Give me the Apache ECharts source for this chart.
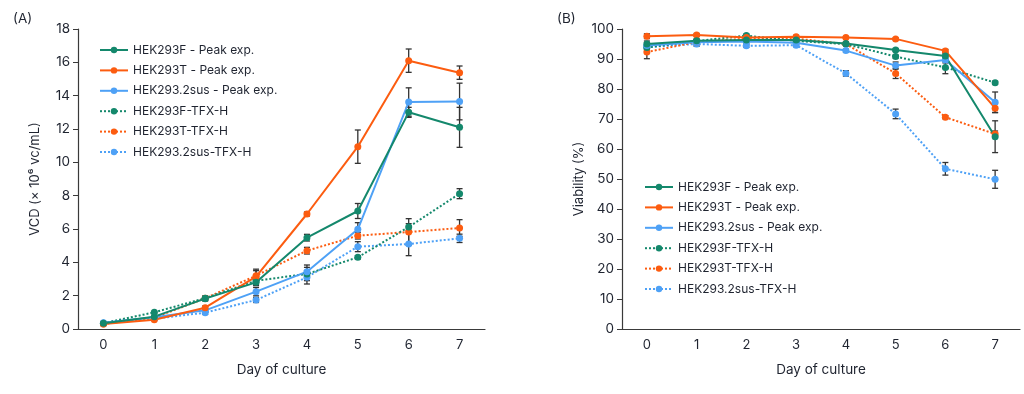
<!DOCTYPE html>
<html><head><meta charset="utf-8">
<script src="https://cdn.jsdelivr.net/npm/echarts@6/dist/echarts.min.js"></script>
<style>html,body{margin:0;padding:0;background:#fff}#c{width:1024px;height:394px}</style>
</head><body><div id="c"></div>
<script>
const days = ['0','1','2','3','4','5','6','7'];
const names = ['HEK293F - Peak exp.','HEK293T - Peak exp.','HEK293.2sus - Peak exp.','HEK293F-TFX-H','HEK293T-TFX-H','HEK293.2sus-TFX-H'];
const colors = ['#14886c','#fc5c10','#4ea1f6','#14886c','#fc5c10','#4ea1f6'];
const dashed = [false,false,false,true,true,true];
const vcdTicks = [0,2,4,6,8,10,12,14,16,18];
const viaTicks = [0,10,20,30,40,50,60,70,80,90,100];

// VCD (x10^6 vc/mL)
const vcdFPeak    = [0.35,0.74,1.82,2.80,5.48,7.08,13.0,12.1];
const vcdTPeak    = [0.30,0.56,1.28,3.14,6.90,10.94,16.1,15.38];
const vcdSusPeak  = [0.38,0.70,1.12,2.24,3.44,5.98,13.62,13.65];
const vcdFTfx     = [0.35,1.00,1.85,2.90,3.30,4.30,6.12,8.12];
const vcdTTfx     = [0.30,0.68,1.84,3.20,4.70,5.60,5.82,6.06];
const vcdSusTfx   = [0.35,0.62,0.98,1.74,3.10,4.94,5.10,5.44];
const vcdFPeakErr   = [0.05,0.08,0.12,0.2,0.2,0.45,0.3,1.2];
const vcdTPeakErr   = [0.05,0.05,0.1,0.45,0.12,1.0,0.7,0.4];
const vcdSusPeakErr = [0.05,0.05,0.1,0.25,0.4,0.4,0.85,1.1];
const vcdFTfxErr    = [0.05,0.05,0.1,0.2,0.4,0.1,0.2,0.3];
const vcdTTfxErr    = [0.05,0.05,0.15,0.3,0.2,0.2,0.8,0.5];
const vcdSusTfxErr  = [0.05,0.05,0.1,0.15,0.4,0.3,0.7,0.25];

// Viability (%)
const viaFPeak    = [95.0,96.1,96.3,96.3,95.2,93.0,91.0,64.1];
const viaTPeak    = [97.6,98.0,97.2,97.4,97.2,96.7,92.7,73.6];
const viaSusPeak  = [94.5,95.6,95.8,95.4,92.8,87.8,89.7,75.6];
const viaFTfx     = [93.8,96.0,97.8,96.0,95.0,90.8,87.2,82.1];
const viaTTfx     = [92.3,95.7,96.8,96.8,95.0,85.2,70.6,65.0];
const viaSusTfx   = [94.0,95.0,94.4,94.6,85.2,71.7,53.4,49.9];
const viaFPeakErr   = [1.0,0.5,0.5,0.5,0.5,0.5,0.8,5.3];
const viaTPeakErr   = [0.8,0.5,0.5,0.5,0.3,0.3,0.5,1.5];
const viaSusPeakErr = [1.0,1.0,0.5,0.5,0.5,1.2,1.0,3.4];
const viaFTfxErr    = [0.5,0.5,0.5,0.5,0.5,0.5,2.1,0.5];
const viaTTfxErr    = [2.2,0.5,0.5,0.5,0.5,1.7,0.5,1.0];
const viaSusTfxErr  = [0.8,0.8,0.5,0.5,0.9,1.6,2.1,3.0];

const vcdSets = [vcdFPeak,vcdTPeak,vcdSusPeak,vcdFTfx,vcdTTfx,vcdSusTfx];
const vcdErrs = [vcdFPeakErr,vcdTPeakErr,vcdSusPeakErr,vcdFTfxErr,vcdTTfxErr,vcdSusTfxErr];
const viaSets = [viaFPeak,viaTPeak,viaSusPeak,viaFTfx,viaTTfx,viaSusTfx];
const viaErrs = [viaFPeakErr,viaTPeakErr,viaSusPeakErr,viaFTfxErr,viaTTfxErr,viaSusTfxErr];

const FONT = 'Inter';
const TXT = '#1f2430';
const AX = '#3a3a3a';

function errSeries(idx, vals, errs) {
  return {
    type: 'custom', xAxisIndex: idx, yAxisIndex: idx, z: 3, silent: true,
    data: vals.map((v,i)=>[i, v, errs[i]]),
    renderItem: function(params, api){
      const x = api.value(0), v = api.value(1), e = api.value(2);
      const hi = api.coord([x, v+e]), lo = api.coord([x, v-e]);
      const w = 3;
      const st = {stroke:'#333', lineWidth:1.3};
      return {type:'group', children:[
        {type:'line', shape:{x1:hi[0],y1:hi[1],x2:lo[0],y2:lo[1]}, style:st},
        {type:'line', shape:{x1:hi[0]-w,y1:hi[1],x2:hi[0]+w,y2:hi[1]}, style:st},
        {type:'line', shape:{x1:lo[0]-w,y1:lo[1],x2:lo[0]+w,y2:lo[1]}, style:st}
      ]};
    }
  };
}
function lineSeries(idx, k, vals) {
  return {
    type:'line', name:names[k], xAxisIndex:idx, yAxisIndex:idx, z: 4,
    data: vals, symbol:'circle', symbolSize:7, showSymbol:true,
    itemStyle:{color:colors[k]},
    lineStyle:{color:colors[k], width:2, type: dashed[k] ? 'dotted' : 'solid'},
    animation:false
  };
}
const series = [];
for (let k=0;k<6;k++){ series.push(errSeries(0, vcdSets[k], vcdErrs[k])); }
for (let k=0;k<6;k++){ series.push(errSeries(1, viaSets[k], viaErrs[k])); }
for (let k=5;k>=0;k--){ series.push(lineSeries(0, k, vcdSets[k])); }
for (let k=5;k>=0;k--){ series.push(lineSeries(1, k, viaSets[k])); }

function xAx(gi){
  return {type:'category', gridIndex:gi, data:days, boundaryGap:true,
    name:'Day of culture', nameLocation:'middle', nameGap:34,
    nameTextStyle:{fontFamily:FONT, fontSize:13.5, color:TXT},
    axisLine:{lineStyle:{color:AX, width:1.2}},
    axisTick:{alignWithLabel:true, length:5, lineStyle:{color:AX}},
    axisLabel:{fontFamily:FONT, fontSize:13, color:TXT, margin:10}};
}
function yAx(gi, name, max, interval){
  return {type:'value', gridIndex:gi, min:0, max:max, interval:interval,
    name:name, nameLocation:'middle', nameGap:36,
    nameTextStyle:{fontFamily:FONT, fontSize:13, color:TXT},
    axisLine:{show:true, lineStyle:{color:AX, width:1.2}},
    axisTick:{show:true, length:5, lineStyle:{color:AX}},
    splitLine:{show:false},
    axisLabel:{fontFamily:FONT, fontSize:13.5, color:TXT, margin:8}};
}
function legend(left, top){
  return {left:left, top:top, orient:'vertical', data:names, itemWidth:28, itemHeight:8,
    itemGap:6.4, selectedMode:false,
    textStyle:{fontFamily:FONT, fontSize:12, color:TXT, lineHeight:14, padding:[0,0,0,0]}};
}
const chart = echarts.init(document.getElementById('c'), null, {renderer:'canvas'});
chart.setOption({
  animation:false,
  backgroundColor:'#fff',
  title:[
    {text:'(A)', left:8, top:7, textStyle:{fontFamily:FONT, fontSize:13.5, fontWeight:'normal', color:TXT}},
    {text:'(B)', left:552, top:7, textStyle:{fontFamily:FONT, fontSize:13.5, fontWeight:'normal', color:TXT}}
  ],
  legend:[legend(94,38), legend(639,175)],
  grid:[
    {left:78, right:539, top:29, bottom:65},
    {left:622, right:4, top:29, bottom:65}
  ],
  xAxis:[xAx(0), xAx(1)],
  yAxis:[yAx(0,'VCD (× 10⁶ vc/mL)',18,2), yAx(1,'Viability (%)',100,10)],
  series:series
});
</script></body></html>
